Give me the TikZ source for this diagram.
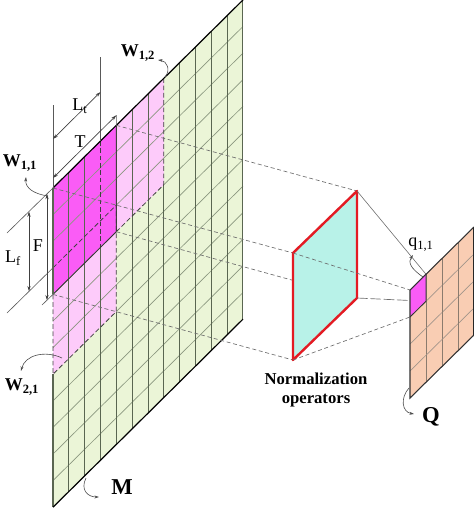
\documentclass[tikz,border=0pt]{standalone}
\usepackage{fontspec}
\setmainfont{Liberation Serif}
\usetikzlibrary{arrows.meta,calc}
\definecolor{mGreen}{HTML}{EBF5D7}
\definecolor{wPink}{HTML}{FDCBFA}
\definecolor{wMagenta}{HTML}{FA5CF6}
\definecolor{nCyan}{HTML}{B8F2E8}
\definecolor{nRed}{HTML}{E31B23}
\definecolor{qPeach}{HTML}{F9CDB3}
\definecolor{colGray}{HTML}{5A6651}
\definecolor{rowGray}{HTML}{8A977F}
\definecolor{qBrown}{HTML}{8B7B6E}
\definecolor{lineGray}{HTML}{6E6E6E}

\begin{document}
\begin{tikzpicture}[x=0.75pt,y=-0.75pt,
  proj/.style={lineGray,line width=0.5pt,dash pattern=on 3pt off 2pt},
  win/.style={black!75,line width=0.6pt,dash pattern=on 3.5pt off 2pt},
  ext/.style={black!65,line width=0.45pt},
  dim/.style={black!75,line width=0.5pt,{Stealth[length=4pt,width=2.4pt]}-{Stealth[length=4pt,width=2.4pt]}},
  callout/.style={black!70,line width=0.45pt,-{Stealth[length=3.5pt,width=2.2pt]}},
  lbl/.style={font=\fontsize{13.5}{15}\selectfont,inner sep=1pt},
  bold/.style={font=\fontsize{13.5}{15}\selectfont\bfseries,inner sep=1pt},
  opbox/.style={font=\fontsize{12.5}{14}\selectfont\bfseries,inner sep=1pt,align=center},
  big/.style={font=\fontsize{17}{19}\selectfont\bfseries,inner sep=1pt}]
\useasboundingbox (0,0) rectangle (474,514);

\foreach \i in {0,...,12}{
  \foreach \j in {0,...,12}{
    \coordinate (m-\i-\j) at ({53+15.83*\i},{188-15.67*\i+26.6*\j});
  }
}
\foreach \i in {0,...,4}{
  \foreach \j in {0,...,4}{
    \coordinate (q-\i-\j) at ({410+16*\i},{290-15.75*\i+27*\j});
  }
}
\coordinate (nTL) at (293,253);
\coordinate (nTR) at (357,191);
\coordinate (nBR) at (357,298);
\coordinate (nBL) at (293,360);

% matrix M and the windows
\fill[mGreen] (m-0-0) -- (m-12-0) -- (m-12-12) -- (m-0-12) -- cycle;
\fill[wPink] (m-3-0) -- (m-7-0) -- (m-7-4) -- (m-3-4) -- cycle;
\fill[wPink] (m-0-3) -- (m-4-3) -- (m-4-7) -- (m-0-7) -- cycle;
\fill[wMagenta] (m-0-0) -- (m-4-0) -- (m-4-4) -- (m-0-4) -- cycle;

\foreach \j/\a/\b in {1/0/12,2/0/12,3/4/12,4/0/4,4/7/12,5/0/12,6/0/12,7/4/12,8/0/12,9/0/12,10/0/12,11/0/12}
  \draw[rowGray,line width=0.5pt] (m-\a-\j) -- (m-\b-\j);
\foreach \i/\a/\b in {1/0/12,2/0/12,3/4/12,4/0/4,4/7/12,5/0/12,6/0/12,7/4/12,8/0/12,9/0/12,10/0/12,11/0/12}
  \draw[colGray,line width=0.6pt] (m-\i-\a) -- (m-\i-\b);

\draw[win] (m-3-0) -- (m-3-4);
\draw[win] (m-4-4) -- (m-7-4) -- (m-7-0);
\draw[win] (m-0-3) -- (m-4-3) -- (m-4-7) -- (m-0-7) -- (m-0-4);
\draw[black!80,line width=0.6pt] (m-0-4) -- (m-4-4) -- (m-4-0);

\draw[colGray,line width=0.8pt] (m-0-0) -- (m-0-4) (m-0-7) -- (m-0-12) (m-12-0) -- (m-12-12);
\draw[black,line width=0.9pt] (m-0-0) -- (m-12-0) (m-0-12) -- (m-12-12);

% projection lines
\draw[proj] (m-0-0) -- (nTL);
\draw[proj] (m-4-0) -- (nTR);
\draw[proj] (m-4-4) -- (nBR);
\draw[proj] (m-0-4) -- (nBL);

\filldraw[fill=nCyan,draw=nRed,line width=1.8pt,line join=round] (nTL) -- (nTR) -- (nBR) -- (nBL) -- cycle;

\draw[proj] (nTL) -- (q-0-0);
\draw[lineGray,line width=0.45pt] (nTR) -- (q-1-0);
\draw[lineGray,line width=0.5pt,dash pattern=on 8pt off 2pt] (nBR) -- (q-1-1);
\draw[proj] (nBL) -- (q-0-1);

% output Q
\fill[qPeach] (q-0-0) -- (q-4-0) -- (q-4-4) -- (q-0-4) -- cycle;
\fill[wMagenta] (q-0-0) -- (q-1-0) -- (q-1-1) -- (q-0-1) -- cycle;
\foreach \k in {1,2,3}{
  \draw[qBrown!80,line width=0.5pt] (q-0-\k) -- (q-4-\k);
  \draw[qBrown,line width=0.7pt] (q-\k-0) -- (q-\k-4);
}
\draw[black!80,line width=0.6pt] (q-0-1) -- (q-1-1) -- (q-1-0);
\draw[black!80,line width=0.8pt] (q-4-0) -- (q-0-0) -- (q-0-4) -- (q-4-4);
\draw[black!85,line width=1.8pt] (q-4-0) -- (q-4-4);

% dimensions
\coordinate (eA) at (53,105);
\coordinate (eB) at (100.5,57);
\coordinate (eC) at (116.3,115);
\coordinate (eD) at (7,233);
\coordinate (eE) at (7,313);
\coordinate (eF) at (42,305);
\draw[ext] (m-0-0) -- (eA);
\draw[ext] (m-3-0) -- (eB);
\draw[ext] (m-4-0) -- (eC);
\draw[ext] (m-0-0) -- (eD);
\draw[ext] (m-0-3) -- (eE);
\draw[ext] (m-0-4) -- (eF);

\coordinate (ltA) at (53,139);
\coordinate (ltB) at (100.5,92);
\coordinate (tA) at (53,178);
\coordinate (tB) at (116.3,115.3);
\coordinate (lfA) at (29,211.5);
\coordinate (lfB) at (29,291.3);
\coordinate (fA) at (47,193.9);
\coordinate (fB) at (47,300.3);
\draw[dim] (ltA) -- (ltB);
\draw[dim] (tA) -- (tB);
\draw[dim] (lfA) -- (lfB);
\draw[dim] (fA) -- (fB);

\node[lbl] (ltLbl) at (80,106) {L\textsubscript{t}};
\node[lbl] (tLbl) at (80,142) {T};
\node[lbl] (fLbl) at (38,246) {F};
\node[lbl] (lfLbl) at (13,258) {L\textsubscript{f}};

% labels and callouts
\node[bold] (w11) at (20,163) {W\textsubscript{1,1}};
\node[bold] (w12) at (138,53) {W\textsubscript{1,2}};
\node[bold] (w21) at (22,387) {W\textsubscript{2,1}};
\node[lbl] (q11) at (421,245) {q\textsubscript{1,1}};
\node[big] (mLbl) at (122,487) {M};
\node[big] (qLbl) at (431,417) {Q};
\node[opbox] (norm) at (316,390) {Normalization\\operators};

\coordinate (w11s) at (48,196);
\coordinate (w11t) at (26,177);
\coordinate (w12s) at (165,77);
\coordinate (w12t) at (158,60);
\coordinate (w21s) at (62,358);
\coordinate (w21t) at (21,371);
\coordinate (ms) at (86,478);
\coordinate (mt) at (99,497);
\coordinate (qs) at (409,388);
\coordinate (qt) at (414,414);
\coordinate (q11s) at (423,277);
\coordinate (q11t) at (413,255);
\draw[callout] (w11s) .. controls (34,194) and (25,188) .. (w11t);
\draw[callout] (w12s) .. controls (171,70) and (167,61) .. (w12t);
\draw[callout] (w21s) .. controls (45,350) and (25,355) .. (w21t);
\draw[callout] (ms) .. controls (80,490) and (88,497) .. (mt);
\draw[callout] (qs) .. controls (400,398) and (402,412) .. (qt);
\draw[callout] (q11s) .. controls (410,268) and (408,262) .. (q11t);
\end{tikzpicture}
\end{document}
